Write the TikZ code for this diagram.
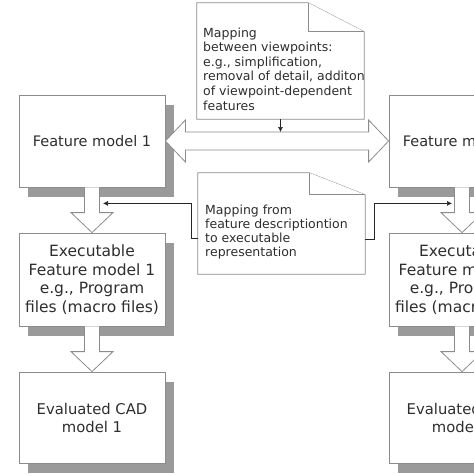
\documentclass[tikz,border=0pt]{standalone}
\usepackage{fontspec}
\setmainfont{DejaVu Sans}
\usetikzlibrary{shadows,calc,arrows.meta}
\definecolor{linegray}{HTML}{8C8C8C}
\definecolor{shadowgray}{HTML}{9A9A9A}
\definecolor{textgray}{HTML}{2E2E2E}
\begin{document}
\begin{tikzpicture}[x=1pt,y=-1pt,
  box/.style={draw=linegray, fill=white, line width=0.8pt, minimum width=146pt, minimum height=92pt, inner sep=0pt, align=center, text=textgray,
    drop shadow={shadow xshift=9pt, shadow yshift=-10pt, fill=shadowgray, opacity=1}},
  blockarrow/.style={draw=linegray, fill=white, line width=0.8pt, line join=miter},
  notebox/.style={draw=linegray, fill=white, line width=0.8pt},
  notearea/.style={inner sep=0pt, minimum width=167pt},
  notetext/.style={anchor=north west, align=left, text=textgray, inner sep=0pt, font=\fontsize{12.5}{14.6}\selectfont},
  link/.style={draw=black!85, line width=0.6pt},
  tipend/.style={-{Latex[length=5pt,width=5pt]}}
]
\useasboundingbox (0,0) rectangle (474,474);

% boxes, left column
\node[box, font=\fontsize{14.5}{18}\selectfont] (b1) at (92,141) {Feature model 1};
\node[box, minimum height=93pt, font=\fontsize{15.5}{18.5}\selectfont] (b2) at (92,279.5) {Executable\\Feature model 1\\e.g., Program\\files (macro files)};
\node[box, minimum height=91pt, font=\fontsize{14.8}{18}\selectfont] (b3) at (92,417.5) {Evaluated CAD\\model 1};

% boxes, right column
\node[box, font=\fontsize{14.5}{18}\selectfont] (r1) at (462,141) {Feature model 2};
\node[box, minimum height=93pt, font=\fontsize{15.5}{18.5}\selectfont] (r2) at (462,279.5) {Executable\\Feature model 2\\e.g., Program\\files (macro files)};
\node[box, minimum height=91pt, font=\fontsize{14.8}{18}\selectfont] (r3) at (462,417.5) {Evaluated CAD\\model 2};

% down block arrows
\foreach \u/\v in {b1/b2, b2/b3, r1/r2, r2/r3}{
  \draw[blockarrow] ($(\u.south)+(-7.5,0)$) -- ($(\v.north)+(-7.5,-20)$) -- ($(\v.north)+(-21,-20)$) -- (\v.north)
     -- ($(\v.north)+(21,-20)$) -- ($(\v.north)+(7.5,-20)$) -- ($(\u.south)+(7.5,0)$);
}

% horizontal double block arrow
\draw[blockarrow] (b1.east) -- ($(b1.east)+(20,-21)$) -- ($(b1.east)+(20,-9)$) -- ($(r1.west)+(-20,-9)$)
   -- ($(r1.west)+(-20,-21)$) -- (r1.west) -- ($(r1.west)+(-20,21)$) -- ($(r1.west)+(-20,9)$)
   -- ($(b1.east)+(20,9)$) -- ($(b1.east)+(20,21)$) -- cycle;
\coordinate (dtop) at ($(b1.east)+(20,-9)$);

% callout 1
\node[notearea, minimum height=116pt] (c1) at (280.5,61) {};
\draw[notebox] (c1.south west) -- (c1.north west) -- ($(c1.north east)+(-56,0)$) -- ($(c1.north east)+(0,29)$) -- (c1.south east) -- cycle;
\draw[notebox] ($(c1.north east)+(-56,0)$) -- ($(c1.north east)+(-56,29)$) -- ($(c1.north east)+(0,29)$);
\node[notetext] (t1) at (203,27.5) {Mapping\\between viewpoints:\\e.g., simplification,\\removal of detail, additon\\of viewpoint-dependent\\features};
\draw[link, tipend] (c1.south) -- (c1.south |- dtop);

% callout 2
\node[notearea, minimum height=101pt] (c2) at (281.5,223.5) {};
\draw[notebox] (c2.south west) -- (c2.north west) -- ($(c2.north east)+(-56,0)$) -- ($(c2.north east)+(0,22)$) -- (c2.south east) -- cycle;
\draw[notebox] ($(c2.north east)+(-56,0)$) -- ($(c2.north east)+(-56,22)$) -- ($(c2.north east)+(0,22)$);
\node[notetext, font=\fontsize{12.5}{14}\selectfont] (t2) at (205,204.5) {Mapping from\\feature descriptiontion\\to executable\\representation};

\coordinate (e1) at ($(b1.south)+(11,16)$);
\coordinate (e2) at ($(r1.south)+(-10,16)$);
\draw[link, tipend] ($(c2.west)+(0,14.5)$) -- ++(-7,0) |- (e1);
\draw[link, tipend] ($(c2.east)+(0,15.5)$) -- ++(9,0) |- (e2);
\end{tikzpicture}
\end{document}
